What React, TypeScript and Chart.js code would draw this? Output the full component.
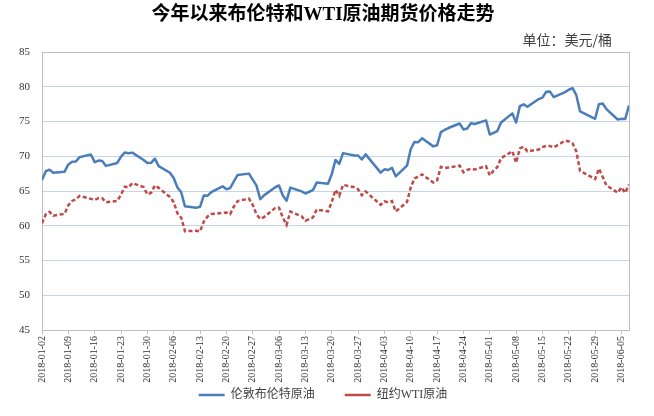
import React, { useEffect, useRef } from "react";
import { Chart, registerables } from "chart.js";

Chart.register(...registerables);

const TITLE = "今年以来布伦特和WTI原油期货价格走势";
const UNIT = "单位：美元/桶";
const SERIES_NAMES = ["伦敦布伦特原油", "纽约WTI原油"];

const dates = [
  "2018-01-02", "2018-01-03", "2018-01-04", "2018-01-05", "2018-01-08", "2018-01-09", "2018-01-10", "2018-01-11", "2018-01-12",
  "2018-01-15", "2018-01-16", "2018-01-17", "2018-01-18", "2018-01-19", "2018-01-22", "2018-01-23", "2018-01-24", "2018-01-25",
  "2018-01-26", "2018-01-29", "2018-01-30", "2018-01-31",
  "2018-02-01", "2018-02-02", "2018-02-05", "2018-02-06", "2018-02-07", "2018-02-08", "2018-02-09", "2018-02-12", "2018-02-13",
  "2018-02-14", "2018-02-15", "2018-02-16", "2018-02-19", "2018-02-20", "2018-02-21", "2018-02-22", "2018-02-23", "2018-02-26",
  "2018-02-27", "2018-02-28",
  "2018-03-01", "2018-03-02", "2018-03-05", "2018-03-06", "2018-03-07", "2018-03-08", "2018-03-09", "2018-03-12", "2018-03-13",
  "2018-03-14", "2018-03-15", "2018-03-16", "2018-03-19", "2018-03-20", "2018-03-21", "2018-03-22", "2018-03-23", "2018-03-26",
  "2018-03-27", "2018-03-28", "2018-03-29",
  "2018-04-02", "2018-04-03", "2018-04-04", "2018-04-05", "2018-04-06", "2018-04-09", "2018-04-10", "2018-04-11", "2018-04-12",
  "2018-04-13", "2018-04-16", "2018-04-17", "2018-04-18", "2018-04-19", "2018-04-20", "2018-04-23", "2018-04-24", "2018-04-25",
  "2018-04-26", "2018-04-27", "2018-04-30",
  "2018-05-01", "2018-05-02", "2018-05-03", "2018-05-04", "2018-05-07", "2018-05-08", "2018-05-09", "2018-05-10", "2018-05-11",
  "2018-05-14", "2018-05-15", "2018-05-16", "2018-05-17", "2018-05-18", "2018-05-21", "2018-05-22", "2018-05-23", "2018-05-24",
  "2018-05-25", "2018-05-29", "2018-05-30", "2018-05-31",
  "2018-06-01", "2018-06-04", "2018-06-05", "2018-06-06", "2018-06-07",
];

const brent = [
  66.57, 67.84, 68.07, 67.62, 67.78, 68.82, 69.2, 69.26, 69.87, 70.26, 69.15, 69.38, 69.31, 68.61, 69.03, 69.96, 70.53, 70.42,
  70.52, 69.46, 69.02, 69.05,
  69.65, 68.58, 67.62, 66.86, 65.51, 64.81, 62.79, 62.59, 62.72, 64.36, 64.33, 64.84, 65.67, 65.25, 65.42, 66.39, 67.31, 67.5,
  66.63, 65.78,
  63.83, 64.37, 65.54, 65.79, 64.34, 63.61, 65.49, 64.95, 64.64, 64.89, 65.12, 66.21, 66.05, 67.42, 69.47, 68.91, 70.45, 70.12,
  70.11, 69.53, 70.27,
  67.64, 68.12, 68.02, 68.33, 67.11, 68.65, 71.04, 72.06, 72.02, 72.58, 71.42, 71.58, 73.48, 73.78, 74.06, 74.71, 73.86, 74.0,
  74.74, 74.64, 75.17,
  73.13, 73.36, 73.62, 74.87, 76.17, 74.85, 77.21, 77.47, 77.12, 78.23, 78.43, 79.28, 79.3, 78.51, 79.22, 79.57, 79.8, 78.79,
  76.44, 75.39, 77.5, 77.59,
  76.79, 75.29, 75.38, 75.36, 77.32,
];

const wti = [
  60.37, 61.63, 62.01, 61.44, 61.73, 62.96, 63.57, 63.8, 64.3, null, 63.73, 63.97, 63.95, 63.37, 63.57, 64.47, 65.61, 65.51,
  66.14, 65.56, 64.5, 64.73,
  65.8, 65.45, 64.15, 63.39, 61.79, 61.15, 59.2, 59.29, 59.19, 60.6, 61.34, 61.68, null, 61.9, 61.68, 62.77, 63.55, 63.91,
  63.01, 61.64,
  60.99, 61.25, 62.57, 62.6, 61.15, 60.12, 62.04, 61.36, 60.71, 60.96, 61.19, 62.34, 62.06, 63.4, 65.17, 64.3, 65.88, 65.55,
  65.25, 64.38, 64.94,
  63.01, 63.51, 63.37, 63.54, 62.06, 63.42, 65.51, 66.82, 67.07, 67.39, 66.22, 66.52, 68.47, 68.29, 68.38, 68.64, 67.7, 68.05,
  68.19, 68.1, 68.57,
  67.25, 67.93, 68.43, 69.72, 70.73, 69.06, 71.14, 71.36, 70.7, 70.96, 71.31, 71.49, 71.49, 71.28, 72.24, 72.13, 71.84, 70.71,
  67.88, 66.73, 68.21, 67.04,
  65.81, 64.75, 65.52, 64.73, 65.95,
];

const tickDates = [
  "2018-01-02", "2018-01-09", "2018-01-16", "2018-01-23", "2018-01-30", "2018-02-06", "2018-02-13", "2018-02-20",
  "2018-02-27", "2018-03-06", "2018-03-13", "2018-03-20", "2018-03-27", "2018-04-03", "2018-04-10", "2018-04-17",
  "2018-04-24", "2018-05-01", "2018-05-08", "2018-05-15", "2018-05-22", "2018-05-29", "2018-06-05",
];

const Y_MIN = 45;
const Y_MAX = 85;
const Y_STEP = 5;

const DAY_MS = 86400000;
const utc = (s: string) => {
  const [y, m, d] = s.split("-").map(Number);
  return Date.UTC(y, m - 1, d);
};
const BASE = utc(dates[0]);
const dayOf = (s: string) => Math.round((utc(s) - BASE) / DAY_MS);

const SERIF = "'Liberation Serif', 'Times New Roman', serif";
const MIXED = "'Liberation Serif', 'Noto Sans CJK SC', serif";

export default function App() {
  const ref = useRef<HTMLCanvasElement | null>(null);

  useEffect(() => {
    const canvas = ref.current;
    if (!canvas) return;

    const tickLabel = new Map<number, string>();
    tickDates.forEach((s) => tickLabel.set(dayOf(s), s));
    const lastDay = dayOf(dates[dates.length - 1]);

    const framePlugin = {
      id: "frameBox",
      beforeDatasetsDraw(chart: any) {
        const { ctx, chartArea: a } = chart;
        ctx.save();
        ctx.strokeStyle = "#BFBFBF";
        ctx.lineWidth = 1;
        ctx.strokeRect(Math.round(a.left) + 0.5, Math.round(a.top) + 0.5, Math.round(a.right - a.left), Math.round(a.bottom - a.top));
        ctx.restore();
      },
    };

    // let the rotated date labels use the space below the axis box (they share it with the legend's top padding)
    const labelRoomPlugin = {
      id: "labelRoom",
      afterLayout(chart: any) {
        const x = chart.scales.x;
        x.bottom = x.top + 56;
        x.height = 56;
      },
    };

    const unitPlugin = {
      id: "unitLabel",
      afterDraw(chart: any) {
        const { ctx } = chart;
        ctx.save();
        ctx.font = "14px 'Noto Sans CJK SC', sans-serif";
        ctx.fillStyle = "#404040";
        ctx.textAlign = "right";
        ctx.textBaseline = "middle";
        ctx.fillText(UNIT, 612, 40);
        ctx.restore();
      },
    };

    const chart = new Chart(canvas, {
      type: "line",
      data: {
        datasets: [
          {
            label: SERIES_NAMES[0],
            data: dates.map((d, i) => ({ x: dayOf(d), y: brent[i] })),
            borderColor: "#4A7EBB",
            backgroundColor: "#4A7EBB",
            borderWidth: 2.5,
            pointRadius: 0,
            tension: 0,
            borderJoinStyle: "round",
          },
          {
            label: SERIES_NAMES[1],
            data: dates.map((d, i) => ({ x: dayOf(d), y: wti[i] })),
            borderColor: "#BE4B48",
            backgroundColor: "#BE4B48",
            borderWidth: 2.5,
            borderDash: [4, 2.5],
            pointRadius: 0,
            tension: 0,
            spanGaps: true,
          },
        ],
      } as any,
      options: {
        responsive: false,
        animation: false,
        layout: { padding: { left: 17, right: 25, top: 0, bottom: 5 } },
        scales: {
          x: {
            type: "linear",
            min: 0,
            max: lastDay,
            afterBuildTicks: (axis: any) => {
              axis.ticks = tickDates.map((s) => ({ value: dayOf(s) }));
            },
            afterFit: (axis: any) => {
              axis.height = 29;
            },
            ticks: {
              autoSkip: false,
              maxRotation: 90,
              minRotation: 90,
              padding: 2,
              color: "#333333",
              font: { family: SERIF, size: 10 },
              callback: (v: any) => tickLabel.get(Number(v)) ?? "",
            },
            grid: { drawOnChartArea: false, drawTicks: true, tickLength: 4, color: "#BFBFBF" },
            border: { display: true, color: "#BFBFBF" },
          },
          y: {
            min: Y_MIN,
            max: Y_MAX,
            afterFit: (axis: any) => {
              axis.width = 25;
            },
            ticks: {
              stepSize: Y_STEP,
              padding: 12,
              color: "#333333",
              font: { family: SERIF, size: 11 },
            },
            grid: { color: "#C6D5EA", drawTicks: false },
            border: { display: true, color: "#BFBFBF" },
          },
        },
        plugins: {
          title: {
            display: true,
            text: TITLE,
            color: "#000000",
            font: { family: MIXED, size: 19, weight: "bold" },
            padding: { top: 4, bottom: 25.2 },
          },
          legend: {
            display: true,
            position: "bottom",
            labels: {
              usePointStyle: true,
              pointStyle: "line",
              pointStyleWidth: 26,
              padding: 30,
              color: "#404040",
              font: { family: MIXED, size: 12 },
            },
          },
          tooltip: { enabled: false },
        },
      } as any,
      plugins: [framePlugin, labelRoomPlugin, unitPlugin],
    });

    return () => chart.destroy();
  }, []);

  return (
    <div style={{ position: "fixed", left: 0, top: 0, width: 654, height: 416, background: "#ffffff" }}>
      <canvas ref={ref} width={654} height={416} style={{ width: 654, height: 416, display: "block" }} />
    </div>
  );
}
